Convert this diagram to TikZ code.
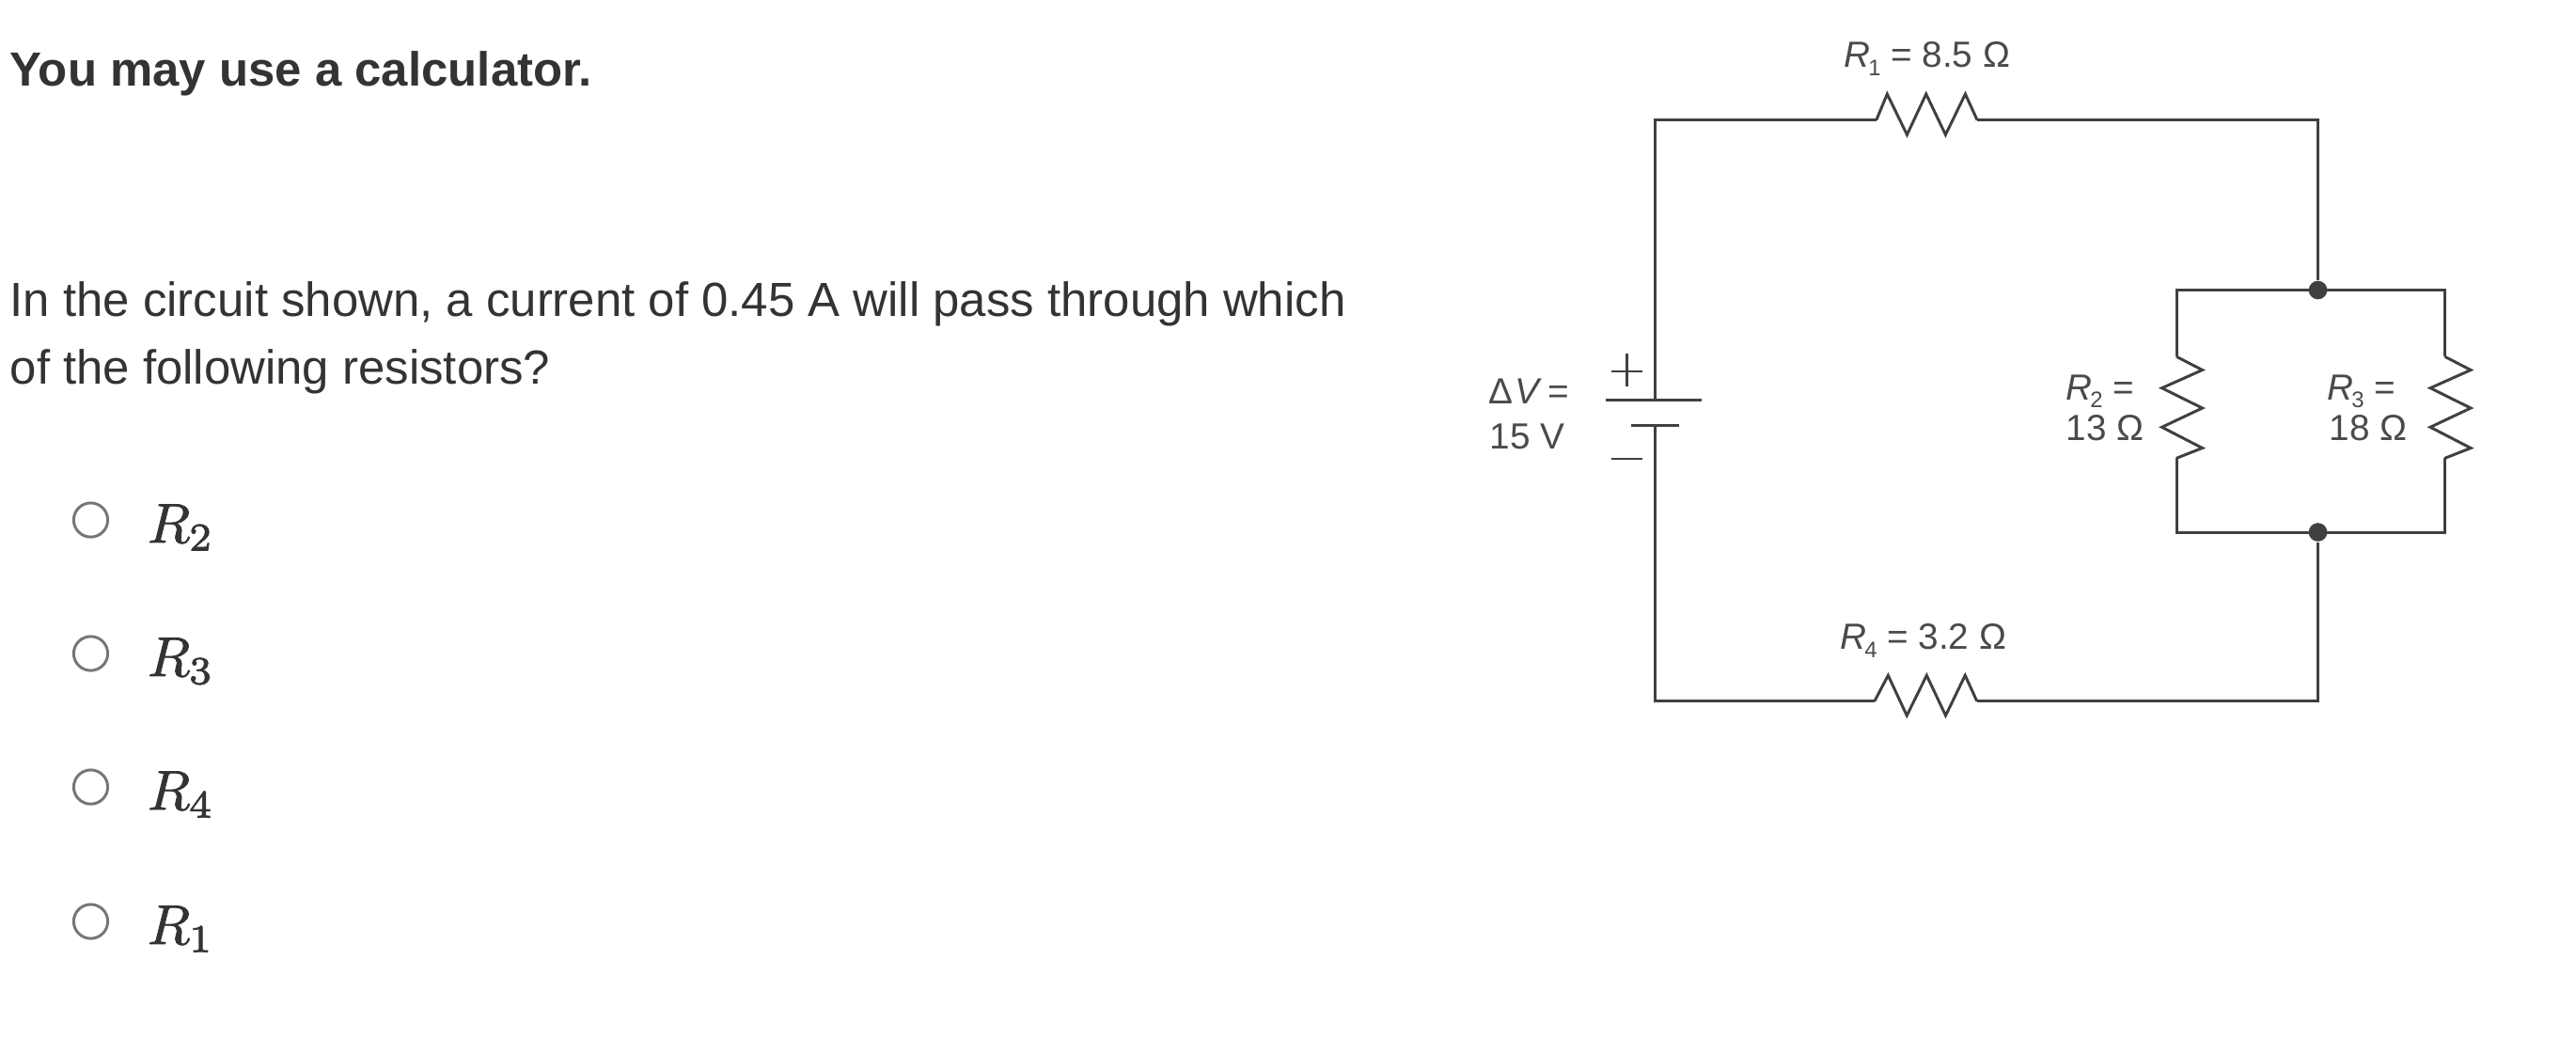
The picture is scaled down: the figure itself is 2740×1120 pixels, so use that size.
\documentclass[tikz,border=0pt]{standalone}
\usepackage{fontspec}
\setmainfont{Liberation Sans}
\definecolor{ink}{HTML}{333333}
\definecolor{wirec}{HTML}{404040}
\definecolor{labelc}{HTML}{4A4A4A}
\definecolor{radioc}{HTML}{767676}
\font\optR=cmmi10 at 16.9pt
\font\optS=cmr7 at 11.9pt
\newcommand{\qfont}{\fontsize{14.48pt}{20pt}\selectfont}
\newcommand{\cfont}{\fontsize{11pt}{12pt}\selectfont}
\newcommand{\sbs}[1]{\kern-0.06em\raisebox{-0.22em}{\fontsize{6.8pt}{7pt}\selectfont #1}}
\newcommand{\Rn}[1]{\textit{R}\sbs{#1}}
\newcommand{\optlabel}[1]{\special{pdf:code q 2 Tr 0.22 w 0.2 0.2 0.2 RG}{\optR R}\kern-0.2pt\raisebox{-2.4pt}{\optS #1}\special{pdf:code Q}}
\tikzset{
  qtext/.style={anchor=base west,inner sep=0pt,text=ink,font=\qfont},
  mathlabel/.style={anchor=base west,inner sep=0pt,text=ink},
  clabel/.style={anchor=base west,inner sep=0pt,text=labelc,font=\cfont},
  radio/.style={circle,draw=radioc,line width=0.85pt,minimum size=10.3pt,inner sep=0pt},
  wire/.style={draw=wirec,line width=0.85pt,line join=miter},
  thin wire/.style={draw=wirec,line width=0.7pt},
  junction/.style={circle,fill=wirec,minimum size=5.6pt,inner sep=0pt}
}
\begin{document}
\begin{tikzpicture}[x=0.01cm,y=-0.01cm]
\useasboundingbox (0,0) rectangle (2740,1120);
% question text
\node[qtext,font=\qfont\bfseries] (head) at (10,91) {You may use a calculator.};
\node[qtext] (q1) at (10,336) {In the circuit shown, a current of 0.45 A will pass through which};
\node[qtext] (q2) at (10,408) {of the following resistors?};
% answer options
\node[radio] (o2) at (96.5,553) {};
\node[radio] (o3) at (96.5,695) {};
\node[radio] (o4) at (96.5,837) {};
\node[radio] (o1) at (96.5,980) {};
\node[mathlabel] (a2) at (156,577) {\optlabel{2}};
\node[mathlabel] (a3) at (156,719) {\optlabel{3}};
\node[mathlabel] (a4) at (156,861) {\optlabel{4}};
\node[mathlabel] (a1) at (156,1004) {\optlabel{1}};
% circuit anchor points
\coordinate (tl) at (1760,127.6);
\coordinate (tr) at (2465.5,127.6);
\coordinate (bl) at (1760,745.8);
\coordinate (br) at (2465.5,745.8);
\coordinate (pos) at (1760,425.3);
\coordinate (neg) at (1760,452.3);
\coordinate (r1a) at (1995.8,127.6);
\coordinate (r1b) at (2103,127.6);
\coordinate (r4a) at (1993.8,745.8);
\coordinate (r4b) at (2102.8,745.8);
\coordinate (ptl) at (2315,308.5);
\coordinate (ptr) at (2600.5,308.5);
\coordinate (pbl) at (2315,566);
\coordinate (pbr) at (2600.5,566);
\coordinate (r2a) at (2315,379.3);
\coordinate (r2b) at (2315,487.3);
\coordinate (r3a) at (2600.5,379.3);
\coordinate (r3b) at (2600.5,487.3);
\node[junction] (jt) at (2465.5,308.5) {};
\node[junction] (jb) at (2465.5,566) {};
% wires
\draw[wire] (pos) -- (tl) -- (r1a);
\draw[wire] (r1b) -- (tr) -- (jt);
\draw[wire] (neg) -- (bl) -- (r4a);
\draw[wire] (r4b) -- (br) -- (jb);
\draw[wire] (r2a) -- (ptl) -- (ptr) -- (r3a);
\draw[wire] (r2b) -- (pbl) -- (pbr) -- (r3b);
% resistors
\draw[wire] (r1a) -- (2007.3,100) -- (2028.4,143.3) -- (2048.7,100) -- (2069.4,143.3) -- (2090.4,100) -- (r1b);
\draw[wire] (r4a) -- (2008.3,718.3) -- (2028.2,761) -- (2049.3,718.3) -- (2069.5,761) -- (2090.2,718.3) -- (r4b);
\draw[wire] (r2a) -- (2342.5,393.5) -- (2299.5,412.7) -- (2342.5,434) -- (2299.5,454.3) -- (2342.5,476.5) -- (r2b);
\draw[wire] (r3a) -- (2628,393.5) -- (2585,412.7) -- (2628,434) -- (2585,454.3) -- (2628,476.5) -- (r3b);
% battery
\coordinate (p1) at (1708,425.3);
\coordinate (p2) at (1810,425.3);
\coordinate (s1) at (1735,452.3);
\coordinate (s2) at (1786,452.3);
\draw[wire] (p1) -- (p2);
\draw[wire] (s1) -- (s2);
\coordinate (ph1) at (1714,395);
\coordinate (ph2) at (1746.5,395);
\coordinate (pv1) at (1730.3,376);
\coordinate (pv2) at (1730.3,411);
\coordinate (m1) at (1714,488);
\coordinate (m2) at (1746.5,488);
\draw[thin wire] (ph1) -- (ph2);
\draw[thin wire] (pv1) -- (pv2);
\draw[thin wire] (m1) -- (m2);
% circuit labels
\node[clabel] (lr1) at (1961,71.7) {\Rn{1} = 8.5 Ω};
\node[clabel] (lr4) at (1957,690.7) {\Rn{4} = 3.2 Ω};
\node[clabel] (lr2a) at (2197,425) {\Rn{2} =};
\node[clabel] (lr2b) at (2197,468) {13 Ω};
\node[clabel] (lr3a) at (2475,425) {\Rn{3} =};
\node[clabel] (lr3b) at (2477,468) {18 Ω};
\node[clabel] (lva) at (1583,429) {Δ\kern0.06em\textit{V}\kern0.16em=};
\node[clabel] (lvb) at (1584,477) {15 V};
\end{tikzpicture}
\end{document}
